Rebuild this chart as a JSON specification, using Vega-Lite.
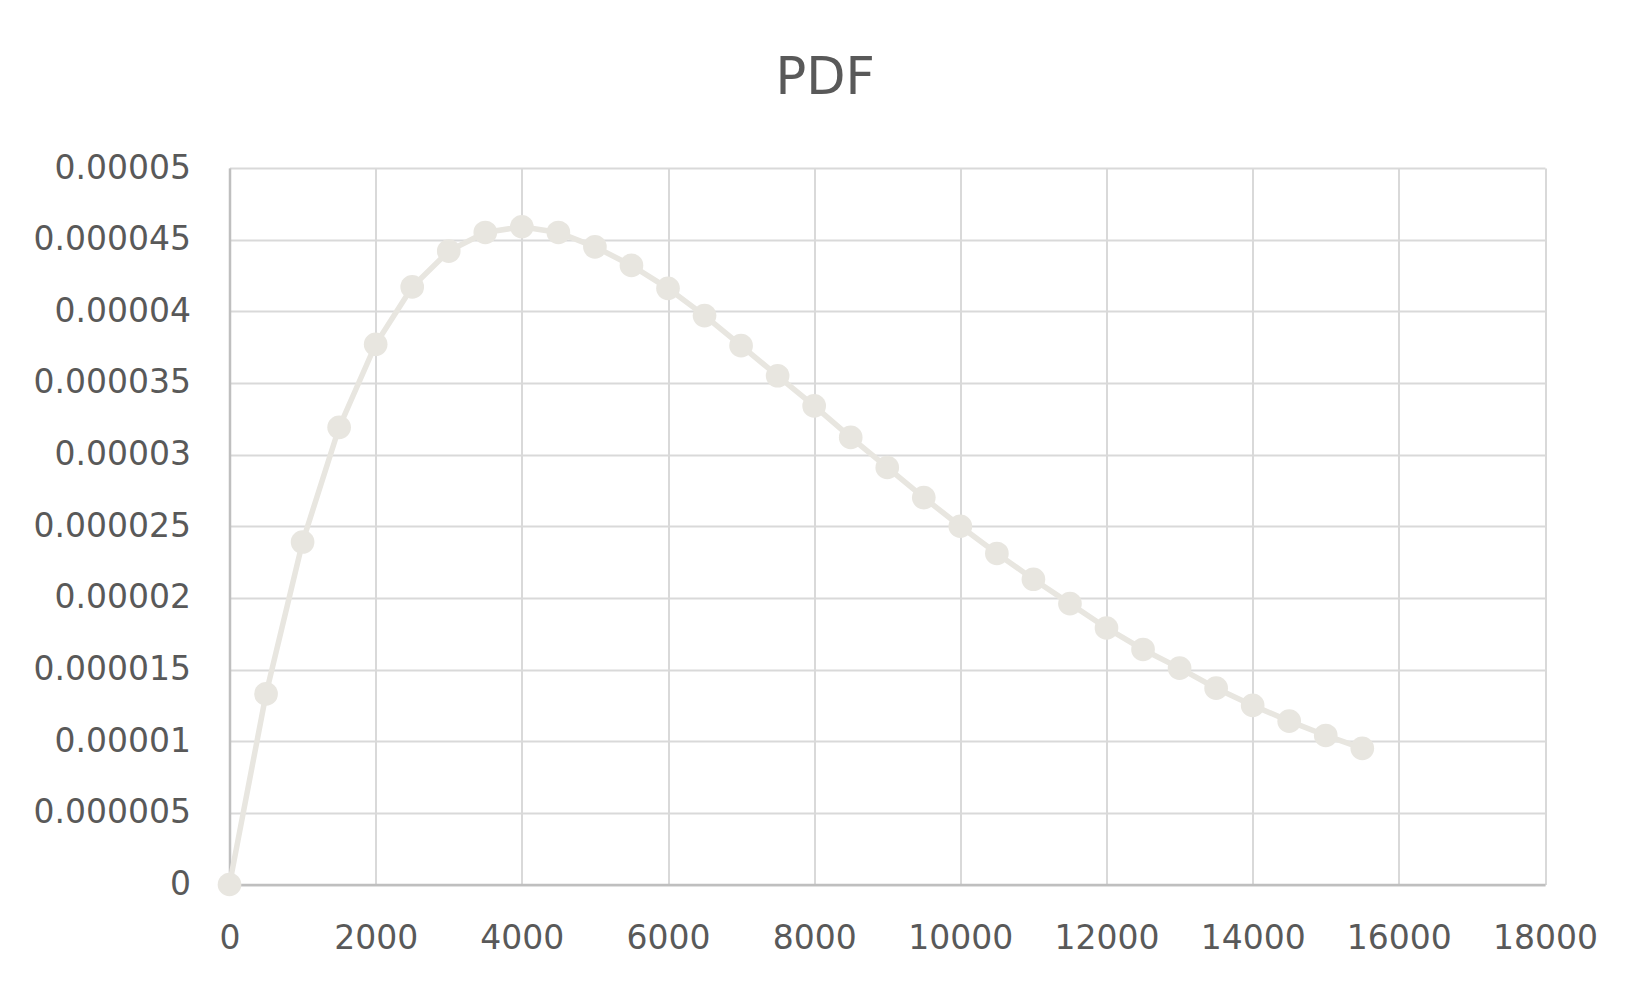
{
  "$schema": "https://vega.github.io/schema/vega-lite/v6.json",
  "autosize": {"type": "none"},
  "padding": {"left": 229.5, "top": 168, "right": 105, "bottom": 105.5},
  "width": 1315.5,
  "height": 716.5,
  "background": "white",
  "title": {
    "text": "PDF",
    "font": "DejaVu Sans",
    "fontSize": 51,
    "fontWeight": "normal",
    "color": "#595959",
    "frame": "group",
    "anchor": "middle",
    "baseline": "alphabetic",
    "offset": 7,
    "dx": -62
  },
  "config": {
    "view": {"stroke": null},
    "axis": {
      "labelFont": "DejaVu Sans",
      "labelFontSize": 33,
      "labelColor": "#595959",
      "labelOverlap": false,
      "labelFlush": false,
      "domainColor": "#BFBFBF",
      "domainWidth": 2.5,
      "ticks": false,
      "tickSize": 0,
      "gridColor": "#D9D9D9",
      "gridWidth": 2,
      "title": null
    }
  },
  "data": {
    "values": [
      {"x": 0, "pdf": 0},
      {"x": 500, "pdf": 0.0000133},
      {"x": 1000, "pdf": 0.0000239},
      {"x": 1500, "pdf": 0.0000319},
      {"x": 2000, "pdf": 0.0000377},
      {"x": 2500, "pdf": 0.0000417},
      {"x": 3000, "pdf": 0.0000442},
      {"x": 3500, "pdf": 0.0000455},
      {"x": 4000, "pdf": 0.0000459},
      {"x": 4500, "pdf": 0.0000455},
      {"x": 5000, "pdf": 0.0000445},
      {"x": 5500, "pdf": 0.0000432},
      {"x": 6000, "pdf": 0.0000416},
      {"x": 6500, "pdf": 0.0000397},
      {"x": 7000, "pdf": 0.0000376},
      {"x": 7500, "pdf": 0.0000355},
      {"x": 8000, "pdf": 0.0000334},
      {"x": 8500, "pdf": 0.0000312},
      {"x": 9000, "pdf": 0.0000291},
      {"x": 9500, "pdf": 0.0000270},
      {"x": 10000, "pdf": 0.0000250},
      {"x": 10500, "pdf": 0.0000231},
      {"x": 11000, "pdf": 0.0000213},
      {"x": 11500, "pdf": 0.0000196},
      {"x": 12000, "pdf": 0.0000179},
      {"x": 12500, "pdf": 0.0000164},
      {"x": 13000, "pdf": 0.0000151},
      {"x": 13500, "pdf": 0.0000137},
      {"x": 14000, "pdf": 0.0000125},
      {"x": 14500, "pdf": 0.0000114},
      {"x": 15000, "pdf": 0.0000104},
      {"x": 15500, "pdf": 0.0000095}
    ]
  },
  "encoding": {
    "x": {
      "field": "x",
      "type": "quantitative",
      "scale": {"domain": [0, 18000], "nice": false, "zero": true},
      "axis": {
        "values": [0, 2000, 4000, 6000, 8000, 10000, 12000, 14000, 16000, 18000],
        "format": "d",
        "labelPadding": 38
      }
    },
    "y": {
      "field": "pdf",
      "type": "quantitative",
      "scale": {"domain": [0, 0.00005], "nice": false},
      "axis": {
        "values": [0, 0.000005, 0.00001, 0.000015, 0.00002, 0.000025, 0.00003, 0.000035, 0.00004, 0.000045, 0.00005],
        "format": "~f",
        "labelPadding": 39
      }
    }
  },
  "layer": [
    {"mark": {"type": "line", "color": "#E8E6E0", "strokeWidth": 5.5}},
    {"mark": {"type": "point", "filled": true, "opacity": 1, "color": "#E8E6E0", "size": 560, "shape": "circle"}}
  ]
}
